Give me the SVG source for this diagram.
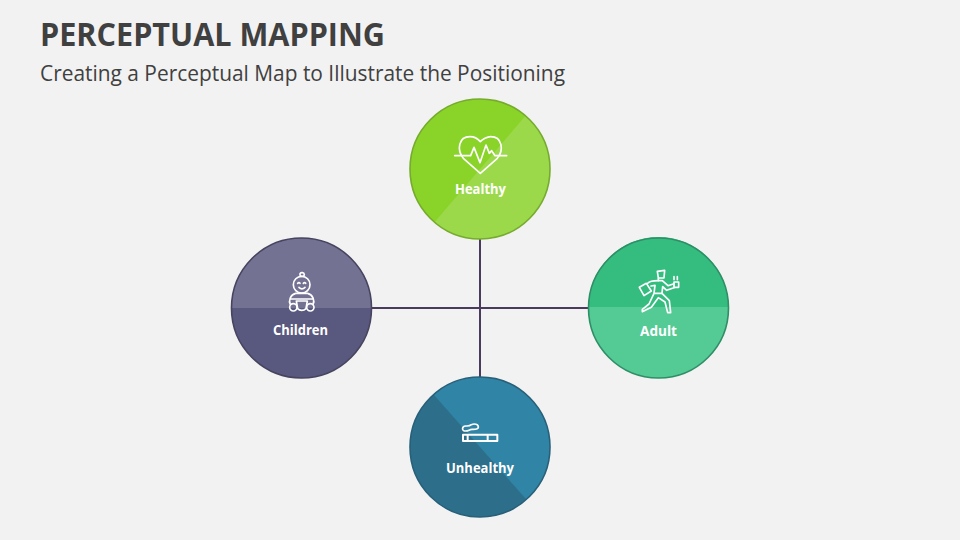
<svg xmlns="http://www.w3.org/2000/svg" width="960" height="540" viewBox="0 0 960 540">
<style>
text{font-family:"Open Sans","Noto Sans","Liberation Sans",sans-serif}
.title{font-size:33px;font-weight:700;fill:#404040}
.sub{font-size:21px;fill:#404040}
.lab{font-size:14.500px;font-weight:700;fill:#fff}
.ic{fill:none;stroke:#fff;stroke-width:5;stroke-linejoin:round;stroke-linecap:round}
.conn{stroke:#4a3a5e;stroke-width:2;fill:none}
.rim{fill:none;stroke-width:1.600}
</style>
<rect width="960" height="540" fill="#f2f2f2"/>
<text class="title" x="40" y="46" textLength="345" lengthAdjust="spacingAndGlyphs">PERCEPTUAL MAPPING</text>
<text class="sub" x="40" y="81" textLength="525" lengthAdjust="spacingAndGlyphs">Creating a Perceptual Map to Illustrate the Positioning</text>
<g id="connectors">
<line class="conn" x1="480" y1="238" x2="480" y2="378"/>
<line class="conn" x1="370" y1="308" x2="590" y2="308"/>
</g>
<g id="node-healthy">
<circle cx="480" cy="169" r="70" fill="#9bd94a"/>
<path d="M525.500 115.800A70 70 0 1 0 434.500 222.200Z" fill="#8ad329"/>
<circle class="rim" cx="480" cy="169" r="70" stroke="#76ab2e"/>
<g transform="translate(400 90) scale(.33333)">
<path class="ic" d="M241 250L190 205C170 180 175 140 210 140C225 140 235 148 241 155C247 148 262 140 272 140C307 140 312 180 292 205Z"/>
<path class="ic" d="M164 197H212L222 172L240 218L258 165L268 190L275 182L285 197H320"/>
</g>
<text class="lab" x="455" y="194" textLength="51" lengthAdjust="spacingAndGlyphs">Healthy</text>
</g>
<g id="node-children">
<circle cx="301.500" cy="308" r="70" fill="#59587f"/>
<path d="M231.500 308A70 70 0 0 1 371.500 308Z" fill="#747293"/>
<circle class="rim" cx="301.500" cy="308" r="70" stroke="#46445f"/>
<g transform="translate(225 230) scale(.33333)">
<circle class="ic" cx="230" cy="164" r="25"/>
<path class="ic" d="M229 139C221 134 225 127 232 128C239 129 240 137 234 138"/>
<path class="ic" d="M218 160Q222 156 225 160M235 160Q239 156 242 160M222 172Q231 181 240 172"/>
<path class="ic" d="M212 190C196 194 190 212 196 224M248 190C264 194 270 212 264 224M212 190H248M196 207H264"/>
<path class="ic" d="M214 213H247L243 236C236 243 224 243 218 236Z"/>
<circle class="ic" cx="205" cy="232" r="11"/>
<circle class="ic" cx="256" cy="232" r="11"/>
</g>
<text class="lab" x="273" y="335" textLength="55" lengthAdjust="spacingAndGlyphs">Children</text>
</g>
<g id="node-adult">
<circle cx="658.500" cy="308" r="70" fill="#54ca94"/>
<path d="M588.500 307A70 70 0 0 1 728.500 307Z" fill="#35bd80"/>
<circle class="rim" cx="658.500" cy="308" r="70" stroke="#2e8f66"/>
<g transform="translate(580 230) scale(.33333)">
<path class="ic" d="M232 124L254 121L252 144H235Z"/>
<path class="ic" d="M235 145V152H247L264 167L282 161M282 173L260 181L248 170L246 190"/>
<path class="ic" d="M235 152C220 152 208 154 203 160M213 168L225 166L222 190L246 190L268 212L272 248H263L255 216L235 203L214 232L187 245V238L207 222L222 190"/>
<path class="ic" d="M178 172L199 160L214 183L192 197Z"/>
<path class="ic" d="M282 156H296V172H282ZM282 140V149M292 140V149"/>
</g>
<text class="lab" x="640" y="336" textLength="37" lengthAdjust="spacingAndGlyphs">Adult</text>
</g>
<g id="node-unhealthy">
<circle cx="480" cy="447" r="70" fill="#3084a6"/>
<path d="M433.600 394.500A70 70 0 0 0 526.400 499.500Z" fill="#2d6f8a"/>
<circle class="rim" cx="480" cy="447" r="70" stroke="#28607a"/>
<g transform="translate(400 370) scale(.33333)">
<path class="ic" style="stroke-width:6" d="M189 194H292V213H189ZM203 194V213M263 194V213"/>
<path class="ic" d="M197 183C184 183 185 169 197 168C205 168 208 169 214 164C222 160 236 162 235 172C234 179 224 178 216 178C208 178 206 183 197 183Z"/>
</g>
<text class="lab" x="446" y="473" textLength="68" lengthAdjust="spacingAndGlyphs">Unhealthy</text>
</g>
</svg>
